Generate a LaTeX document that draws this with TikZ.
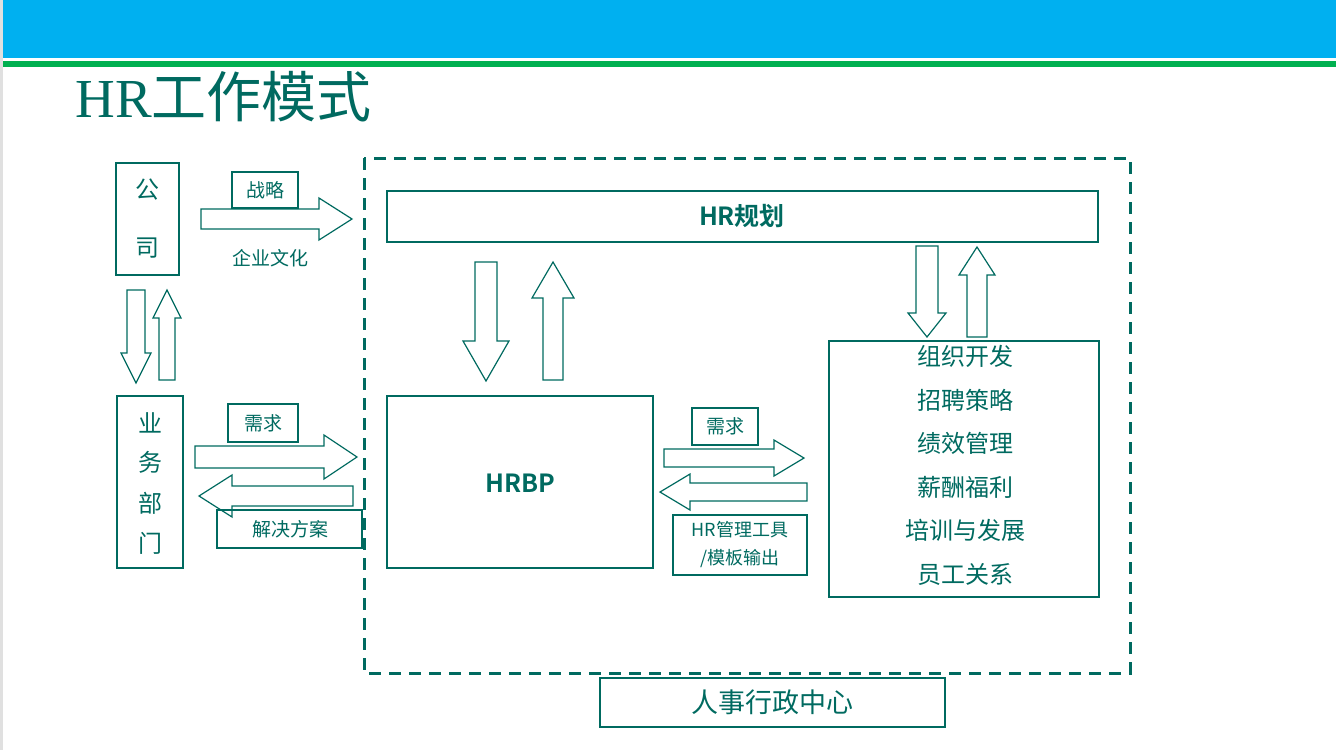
\documentclass[tikz,border=0pt]{standalone}
\usepackage{fontspec}
\setmainfont{Liberation Serif}
\newfontfamily\cjk{Noto Sans CJK SC}
\newfontfamily\cjkb{Noto Sans CJK SC}[BoldFont={Noto Sans CJK SC Bold}]
\definecolor{teal}{HTML}{006A60}
\definecolor{barblue}{HTML}{00B0F0}
\definecolor{bargreen}{HTML}{00B050}
\newcommand{\harrow}[6]{% tail, tip, y, body half, head half, head length (signed)
  \draw[arr] (#1,#3-#4) -- (#2-#6,#3-#4) -- (#2-#6,#3-#5) -- (#2,#3) -- (#2-#6,#3+#5) -- (#2-#6,#3+#4) -- (#1,#3+#4) -- cycle;}
\newcommand{\varrow}[6]{% tail y, tip y, x, body half, head half, head length (signed)
  \draw[arr] (#3-#4,#1) -- (#3-#4,#2-#6) -- (#3-#5,#2-#6) -- (#3,#2) -- (#3+#5,#2-#6) -- (#3+#4,#2-#6) -- (#3+#4,#1) -- cycle;}
\begin{document}
\begin{tikzpicture}[x=1pt,y=-1pt,
  arr/.style={draw=teal,line width=1.2pt,fill=white},
  bx/.style={draw=teal,line width=1.2pt},
  lbl/.style={text=teal,font=\cjk\fontsize{19}{21}\selectfont},
  big/.style={text=teal,font=\cjk\fontsize{24}{26}\selectfont}]
\useasboundingbox (0,0) rectangle (1336,750);
\fill[barblue] (3,0) rectangle (1336,58);
\fill[bargreen] (3,61) rectangle (1336,67);
\fill[black!12] (0,0) rectangle (3,750);
% title
\node[text=teal,anchor=west,font=\fontsize{55}{57}\selectfont] (title) at (72,97) {HR{\cjk 工作模式}};
% company
\draw[bx] (116,163) rectangle (179,275);
\node[big] (gs1) at (147.5,190) {公};
\node[big] (gs2) at (147.5,248) {司};
\draw[bx] (232,172) rectangle (298,208);
\node[lbl] (zl) at (265,190) {战略};
\harrow{201}{352}{219}{10}{21}{33}
\node[lbl] (qywh) at (270,258) {企业文化};
\varrow{290}{383}{136}{9}{15}{30}
\varrow{380}{290}{167}{8}{14}{-28}
% business dept
\draw[bx] (117,396) rectangle (183,568);
\node[big] at (150,423) {业};
\node[big] at (150,462) {务};
\node[big] at (150,503) {部};
\node[big] at (150,543) {门};
\draw[bx] (228,404) rectangle (298,442);
\node[lbl] at (263,423) {需求};
\harrow{195}{357}{457}{11}{22}{33}
\harrow{353}{199}{496}{10}{21}{-33}
\draw[bx] (217,510) rectangle (362,548);
\node[lbl] at (290,529) {解决方案};
% dashed center
\draw[teal,line width=3pt,dash pattern=on 12pt off 8pt] (364,158) rectangle (1130,673);
\draw[bx] (387,191) rectangle (1098,242);
\node[text=teal,font=\cjkb\bfseries\fontsize{25}{27}\selectfont] (hrgh) at (742,216) {HR规划};
\varrow{262}{381}{486}{11}{23}{40}
\varrow{380}{262}{553}{10}{21}{-36}
\draw[bx] (387,396) rectangle (653,568);
\node[text=teal,font=\cjkb\bfseries\fontsize{25}{27}\selectfont] (hrbp) at (520,483) {HRBP};
\draw[bx] (692,408) rectangle (758,445);
\node[lbl] at (725,426) {需求};
\harrow{664}{804}{458}{9}{18}{30}
\harrow{807}{660}{492}{9}{18}{-30}
\draw[bx] (673,515) rectangle (807,575);
\node[text=teal,font=\cjk\fontsize{18}{28}\selectfont,align=center] at (740,545) {HR管理工具\\/模板输出};
\varrow{246}{337}{927}{11}{19}{24}
\varrow{337}{247}{977}{10}{18}{-28}
\draw[bx] (829,341) rectangle (1099,597);
\foreach \t/\y in {组织开发/356,招聘策略/400,绩效管理/443,薪酬福利/487,培训与发展/530,员工关系/574}
  \node[big] at (965,\y) {\t};
\draw[bx] (600,678) rectangle (945,727);
\node[text=teal,font=\cjk\fontsize{27}{29}\selectfont] (rs) at (772,702) {人事行政中心};
\end{tikzpicture}
\end{document}
